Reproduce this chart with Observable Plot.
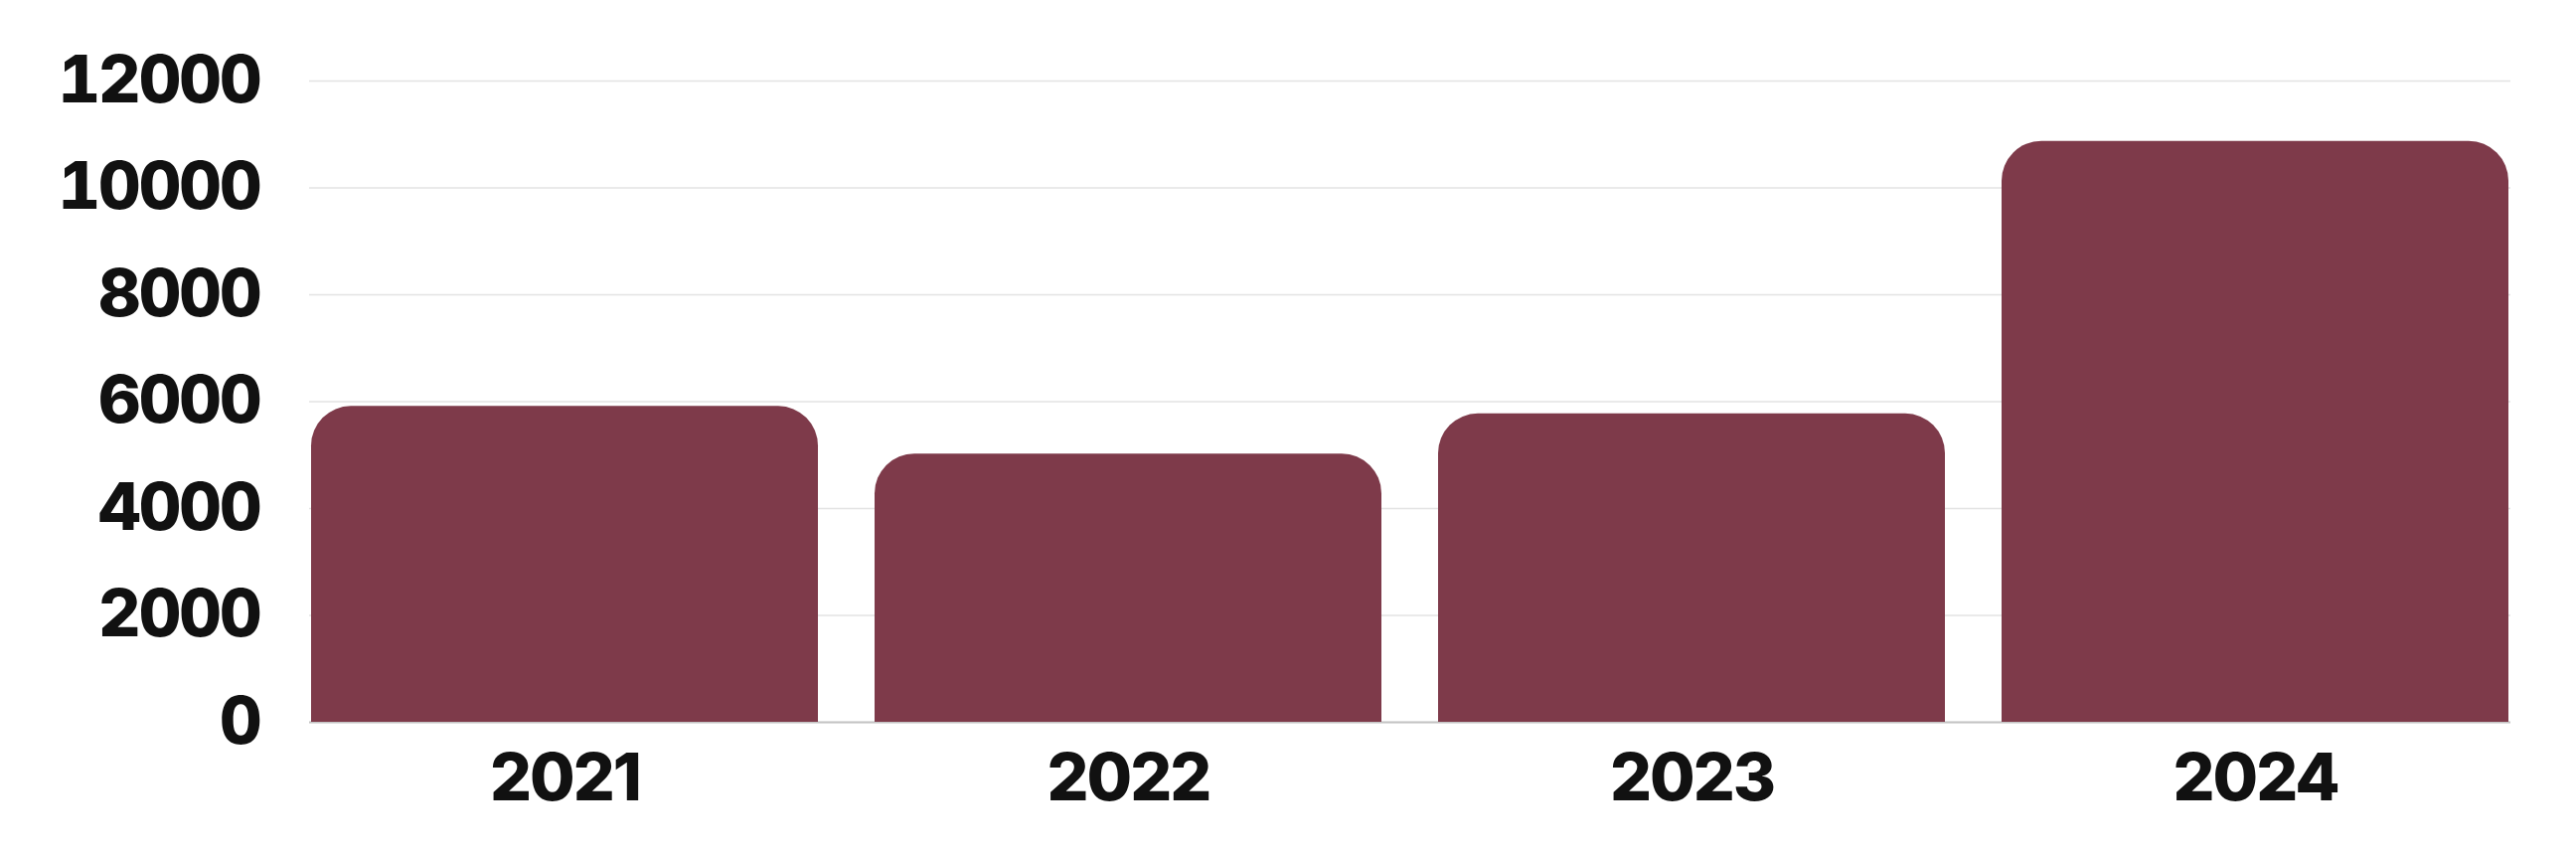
<!DOCTYPE html>
<html>
<head>
<meta charset="utf-8">
<script src="https://cdn.jsdelivr.net/npm/d3@7"></script>
<script src="https://cdn.jsdelivr.net/npm/@observablehq/plot@0.6"></script>
<style>
  html, body { margin: 0; padding: 0; background: #fff; }
  #chart svg { display: block; }
  #chart svg text { letter-spacing: -2px; }
</style>
</head>
<body>
<div id="chart"></div>
<script>
const years = ["2021", "2022", "2023", "2024"];
const values = [5910, 5020, 5770, 10870];
const yTicks = [0, 2000, 4000, 6000, 8000, 10000, 12000];

const data = years.map((year, i) => ({year, value: values[i]}));

const chart = Plot.plot({
  width: 2592,
  height: 864,
  marginTop: 81,
  marginBottom: 138,
  marginLeft: 311,
  marginRight: 66,
  style: {fontFamily: "Inter", fontWeight: 800, fontSize: "66px", color: "#111", background: "#fff"},
  x: {domain: years, paddingInner: 0.1, paddingOuter: 0, label: null},
  y: {domain: [0, 12000], label: null},
  marks: [
    Plot.gridY(yTicks, {stroke: "#e3e3e3", strokeOpacity: 1, strokeWidth: 1.5}),
    Plot.ruleY([0], {stroke: "#c4c4c4", strokeWidth: 2}),
    Plot.barY(data, {x: "year", y: "value", fill: "#7e3a4a", ry1: 40}),
    Plot.axisY(yTicks, {tickSize: 0, tickPadding: 50, tickFormat: d => String(d), fontSize: 66, fontWeight: 800, fill: "#111"}),
    Plot.axisX({tickSize: 0, tickPadding: 32, fontSize: 66, fontWeight: 800, fill: "#111"})
  ]
});
document.getElementById("chart").appendChild(chart);
</script>
</body>
</html>
